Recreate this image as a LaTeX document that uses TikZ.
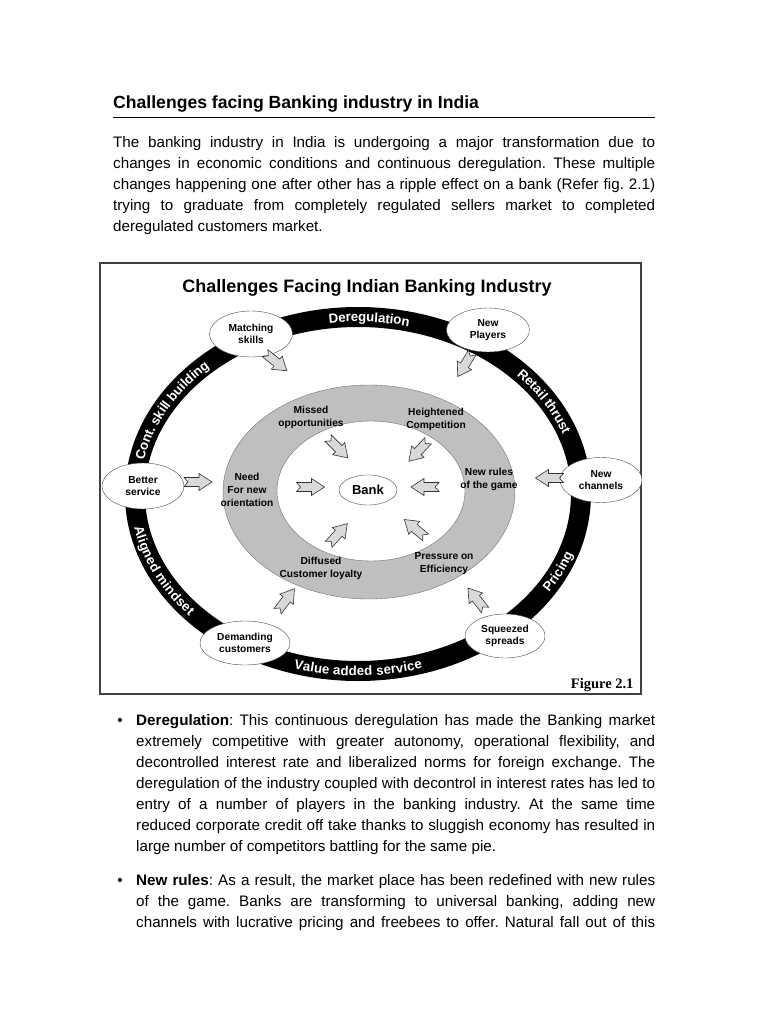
\documentclass[tikz,border=0pt]{standalone}
\usepackage{fontspec}
\setmainfont{Liberation Sans}
\newfontfamily\serifbold{Liberation Serif}
\usetikzlibrary{shapes.geometric, decorations.text, positioning}
\tolerance=9999
\hyphenpenalty=10000
\frenchspacing
\newcommand\bandfont{\fontsize{13.3}{15}\selectfont\bfseries}
\newcommand\bodyfont{\fontsize{15.2}{21}\selectfont}

\begin{document}
\begin{tikzpicture}[x=1pt, y=-1pt]
    \tikzstyle{bubble} = [draw=black!70, fill=white, ellipse, inner sep=0pt, align=center, font=\fontsize{10.2}{12.5}\selectfont\bfseries]
    \tikzstyle{ringlabel} = [align=center, font=\fontsize{10.2}{13}\selectfont\bfseries]
    \tikzstyle{para} = [anchor=north west, inner sep=0pt, align=justify, font=\bodyfont]
    \tikzstyle{arrowbody} = [fill=black!15, draw=black!80, line width=0.6pt, line join=miter]
    \tikzset{
        barrow/.pic={\path[arrowbody] (-14,-4.5) -- (1,-4.5) -- (1,-8.5) -- (14,0) -- (1,8.5) -- (1,4.5) -- (-14,4.5) -- (-10,0) -- cycle;},
        bandtext/.style={decorate, decoration={text along path, text align=center, text color=white, raise=-4.7pt, text={|\bandfont|#1}}}
    }

    \fill[white] (0,0) rectangle (768,1024);
    \useasboundingbox (0,0) rectangle (768,1024);

    % page text above the figure
    \node[anchor=base west, inner sep=0pt, font=\fontsize{17.6}{20}\selectfont\bfseries] (heading) at (113,109) {Challenges facing Banking industry in India};
    \draw[line width=0.9pt] (113,117) -- (655,117);
    \node[para, text width=542pt] (intro) at (113,136.6) {The banking industry in India is undergoing a major transformation due to\linebreak changes in economic conditions and continuous deregulation. These multiple\linebreak changes happening one after other has a ripple effect on a bank (Refer fig. 2.1)\linebreak trying to graduate from completely regulated sellers market to completed\linebreak deregulated customers market.};

    % figure frame and title
    \draw[black!75, line width=1.3pt] (100,263) rectangle (641,694);
    \node[anchor=base, font=\fontsize{18}{20}\selectfont\bfseries] (title) at (367,292) {Challenges Facing Indian Banking Industry};
    \node[anchor=base east, font=\serifbold\fontsize{14.5}{16}\selectfont\bfseries] (figno) at (637,688) {Figure 2.1};

    % black outer ring with its labels
    \draw[line width=20pt] (358,494) ellipse [x radius=223, y radius=177];
    \path[bandtext={Deregulation}] (358,494) ++(-112:223 and 177) arc[start angle=-112, end angle=-62, x radius=223, y radius=177];
    \path[bandtext={Retail thrust}] (358,494) ++(-56:223 and 177) arc[start angle=-56, end angle=-6, x radius=223, y radius=177];
    \path[bandtext={Pricing}] (358,494) ++(50:223 and 177) arc[start angle=50, end angle=0, x radius=223, y radius=177];
    \path[bandtext={Value added service}] (358,494) ++(125:223 and 177) arc[start angle=125, end angle=55, x radius=223, y radius=177];
    \path[bandtext={Aligned mindset}] (358,494) ++(188:223 and 177) arc[start angle=188, end angle=122, x radius=223, y radius=177];
    \path[bandtext={Cont. skill building}] (358,494) ++(173:223 and 177) arc[start angle=173, end angle=243, x radius=223, y radius=177];

    % grey inner ring
    \filldraw[fill=black!25, draw=black!55, even odd rule] (369,492) ellipse [x radius=146, y radius=107] (371,491) ellipse [x radius=94, y radius=70];

    \node[ringlabel] (missed) at (311,417) {Missed\\opportunities};
    \node[ringlabel] (heightened) at (436,419) {Heightened\\Competition};
    \node[ringlabel] (orient) at (247,490) {Need\\For new\\orientation};
    \node[ringlabel] (rules) at (489,479) {New rules\\of the game};
    \node[ringlabel] (loyalty) at (321,568) {Diffused\\Customer loyalty};
    \node[ringlabel] (efficiency) at (444,564) {Pressure on\\Efficiency};

    \node[bubble, minimum width=58pt, minimum height=30pt, font=\fontsize{13}{15}\selectfont\bfseries] (bank) at (368,490) {Bank};

    % outer bubbles
    \node[bubble, minimum width=83pt, minimum height=46pt] (skills) at (251,334) {Matching\\skills};
    \node[bubble, minimum width=83pt, minimum height=44pt] (players) at (488,330) {New\\Players};
    \node[bubble, minimum width=82pt, minimum height=46pt] (service) at (143,486) {Better\\service};
    \node[bubble, minimum width=82pt, minimum height=45pt] (channels) at (601,480) {New\\channels};
    \node[bubble, minimum width=90pt, minimum height=44pt] (customers) at (245,643) {Demanding\\customers};
    \node[bubble, minimum width=80pt, minimum height=44pt] (spreads) at (505,636) {Squeezed\\spreads};

    % block arrows, outer
    \pic[rotate=-39] at (276,362) {barrow};
    \pic[rotate=-121] at (465,364.5) {barrow};
    \pic[rotate=0] at (198,482) {barrow};
    \pic[rotate=180] at (549.5,478) {barrow};
    \pic[rotate=53] at (286,600) {barrow};
    \pic[rotate=128] at (476.5,599) {barrow};
    % block arrows, inner
    \pic[rotate=-45] at (338,448) {barrow};
    \pic[rotate=-133] at (418.5,451) {barrow};
    \pic[rotate=0] at (310.5,487) {barrow};
    \pic[rotate=180] at (425,487) {barrow};
    \pic[rotate=48] at (338,534) {barrow};
    \pic[rotate=140] at (415,528.5) {barrow};

    % bullets below the figure
    \node[anchor=base, font=\bodyfont] (dot1) at (120,725.5) {•};
    \node[para, text width=519pt] (dereg) at (136,714.6) {\textbf{Deregulation}: This continuous deregulation has made the Banking market\linebreak extremely competitive with greater autonomy, operational flexibility, and\linebreak decontrolled interest rate and liberalized norms for foreign exchange. The\linebreak deregulation of the industry coupled with decontrol in interest rates has led to\linebreak entry of a number of players in the banking industry. At the same time\linebreak reduced corporate credit off take thanks to sluggish economy has resulted in\linebreak large number of competitors battling for the same pie.};
    \node[anchor=base, font=\bodyfont] (dot2) at (120,885.5) {•};
    \node[para, text width=519pt] (newrules) at (136,874.6) {\textbf{New rules}: As a result, the market place has been redefined with new rules\linebreak of the game. Banks are transforming to universal banking, adding new\linebreak channels with lucrative pricing and freebees to offer. Natural fall out of this\linebreak};
\end{tikzpicture}
\end{document}
